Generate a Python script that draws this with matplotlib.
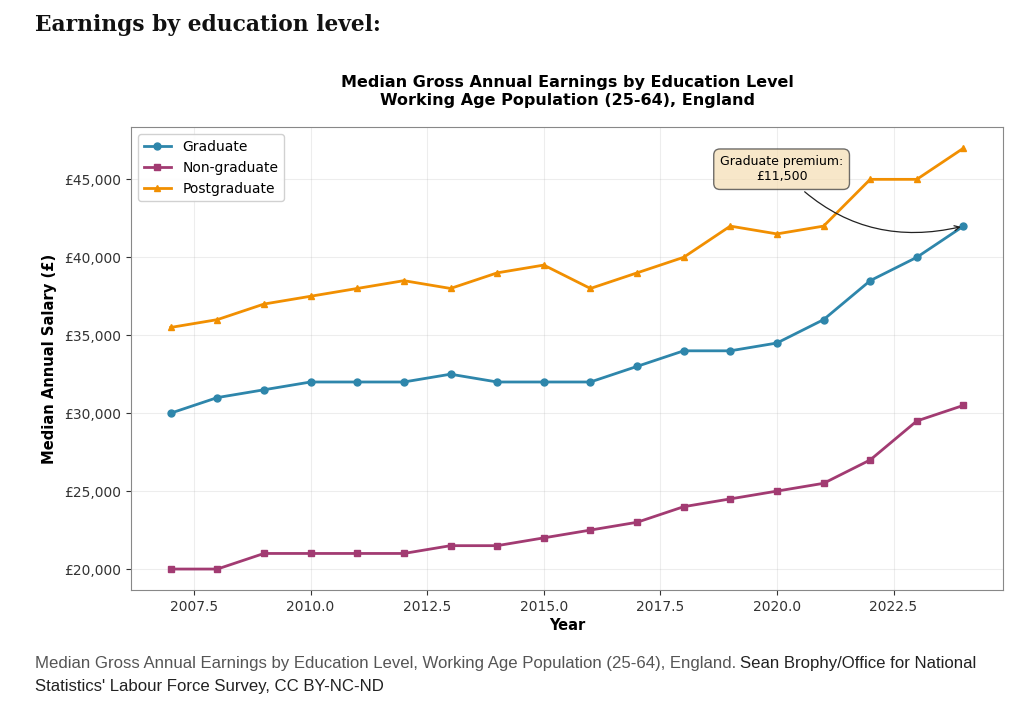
import matplotlib.pyplot as plt
from matplotlib.ticker import FuncFormatter

# Median gross annual earnings, England, working age (25-64)
years = list(range(2007, 2025))
graduate = [30000, 31000, 31500, 32000, 32000, 32000, 32500, 32000, 32000,
            32000, 33000, 34000, 34000, 34500, 36000, 38500, 40000, 42000]
non_graduate = [20000, 20000, 21000, 21000, 21000, 21000, 21500, 21500, 22000,
                22500, 23000, 24000, 24500, 25000, 25500, 27000, 29500, 30500]
postgraduate = [35500, 36000, 37000, 37500, 38000, 38500, 38000, 39000, 39500,
                38000, 39000, 40000, 42000, 41500, 42000, 45000, 45000, 47000]

premium_label = 'Graduate premium:\n£11,500'
caption_1 = ('Median Gross Annual Earnings by Education Level, Working Age '
             'Population (25-64), England.')
caption_2 = 'Sean Brophy/Office for National'
caption_3 = "Statistics' Labour Force Survey, CC BY-NC-ND"

fig = plt.figure(figsize=(10.24, 7.17), dpi=100)
fig.patch.set_facecolor('white')

# page heading above the chart
fig.text(0.034, 0.965, 'Earnings by education level:', family='DejaVu Serif',
         fontweight='bold', fontsize=15.7, va='center', ha='left', color='#111111')

ax = fig.add_axes([0.128, 0.177, 0.8516, 0.6457])

ax.plot(years, graduate, color='#2E86AB', marker='o', markersize=5, linewidth=2,
        label='Graduate')
ax.plot(years, non_graduate, color='#A23B72', marker='s', markersize=5, linewidth=2,
        label='Non-graduate')
ax.plot(years, postgraduate, color='#F18F01', marker='^', markersize=5, linewidth=2,
        label='Postgraduate')

ax.set_title('Median Gross Annual Earnings by Education Level\n'
             'Working Age Population (25-64), England',
             fontsize=11.5, fontweight='bold', pad=16, linespacing=1.25)
ax.set_xlabel('Year', fontsize=10.5, fontweight='bold', labelpad=3)
ax.set_ylabel('Median Annual Salary (£)', fontsize=10.6, fontweight='bold', labelpad=5)
ax.yaxis.set_major_formatter(FuncFormatter(lambda v, p: f'£{v:,.0f}'))
ax.tick_params(labelsize=10, colors='#333333')
ax.grid(True, alpha=0.22)
for s in ax.spines.values():
    s.set_color('#888888')

ax.legend(loc='upper left', fontsize=10, framealpha=0.9)

ax.annotate(premium_label, xy=(years[-1], graduate[-1]), xytext=(2020.1, 45650),
            ha='center', va='center', fontsize=9,
            bbox=dict(boxstyle='round,pad=0.5', facecolor='wheat', alpha=0.7,
                      edgecolor='#333333'),
            arrowprops=dict(arrowstyle='->', color='#222222', lw=0.9,
                            connectionstyle='arc3,rad=0.3'))

# caption under the chart, credit in darker grey after the first sentence
first = fig.text(0.034, 0.075, caption_1, family='Liberation Sans', fontsize=12.1,
                 color='#555555', va='center')
fig.text(0.034, 0.042, caption_3, family='Liberation Sans', fontsize=12.1,
         color='#222222', va='center')

fig.canvas.draw()
bb = first.get_window_extent(fig.canvas.get_renderer())
fig.text(bb.x1 / fig.bbox.width + 0.004, 0.075, caption_2, family='Liberation Sans',
         fontsize=12.1, color='#222222', va='center')

fig.savefig('out.png', dpi=100)
